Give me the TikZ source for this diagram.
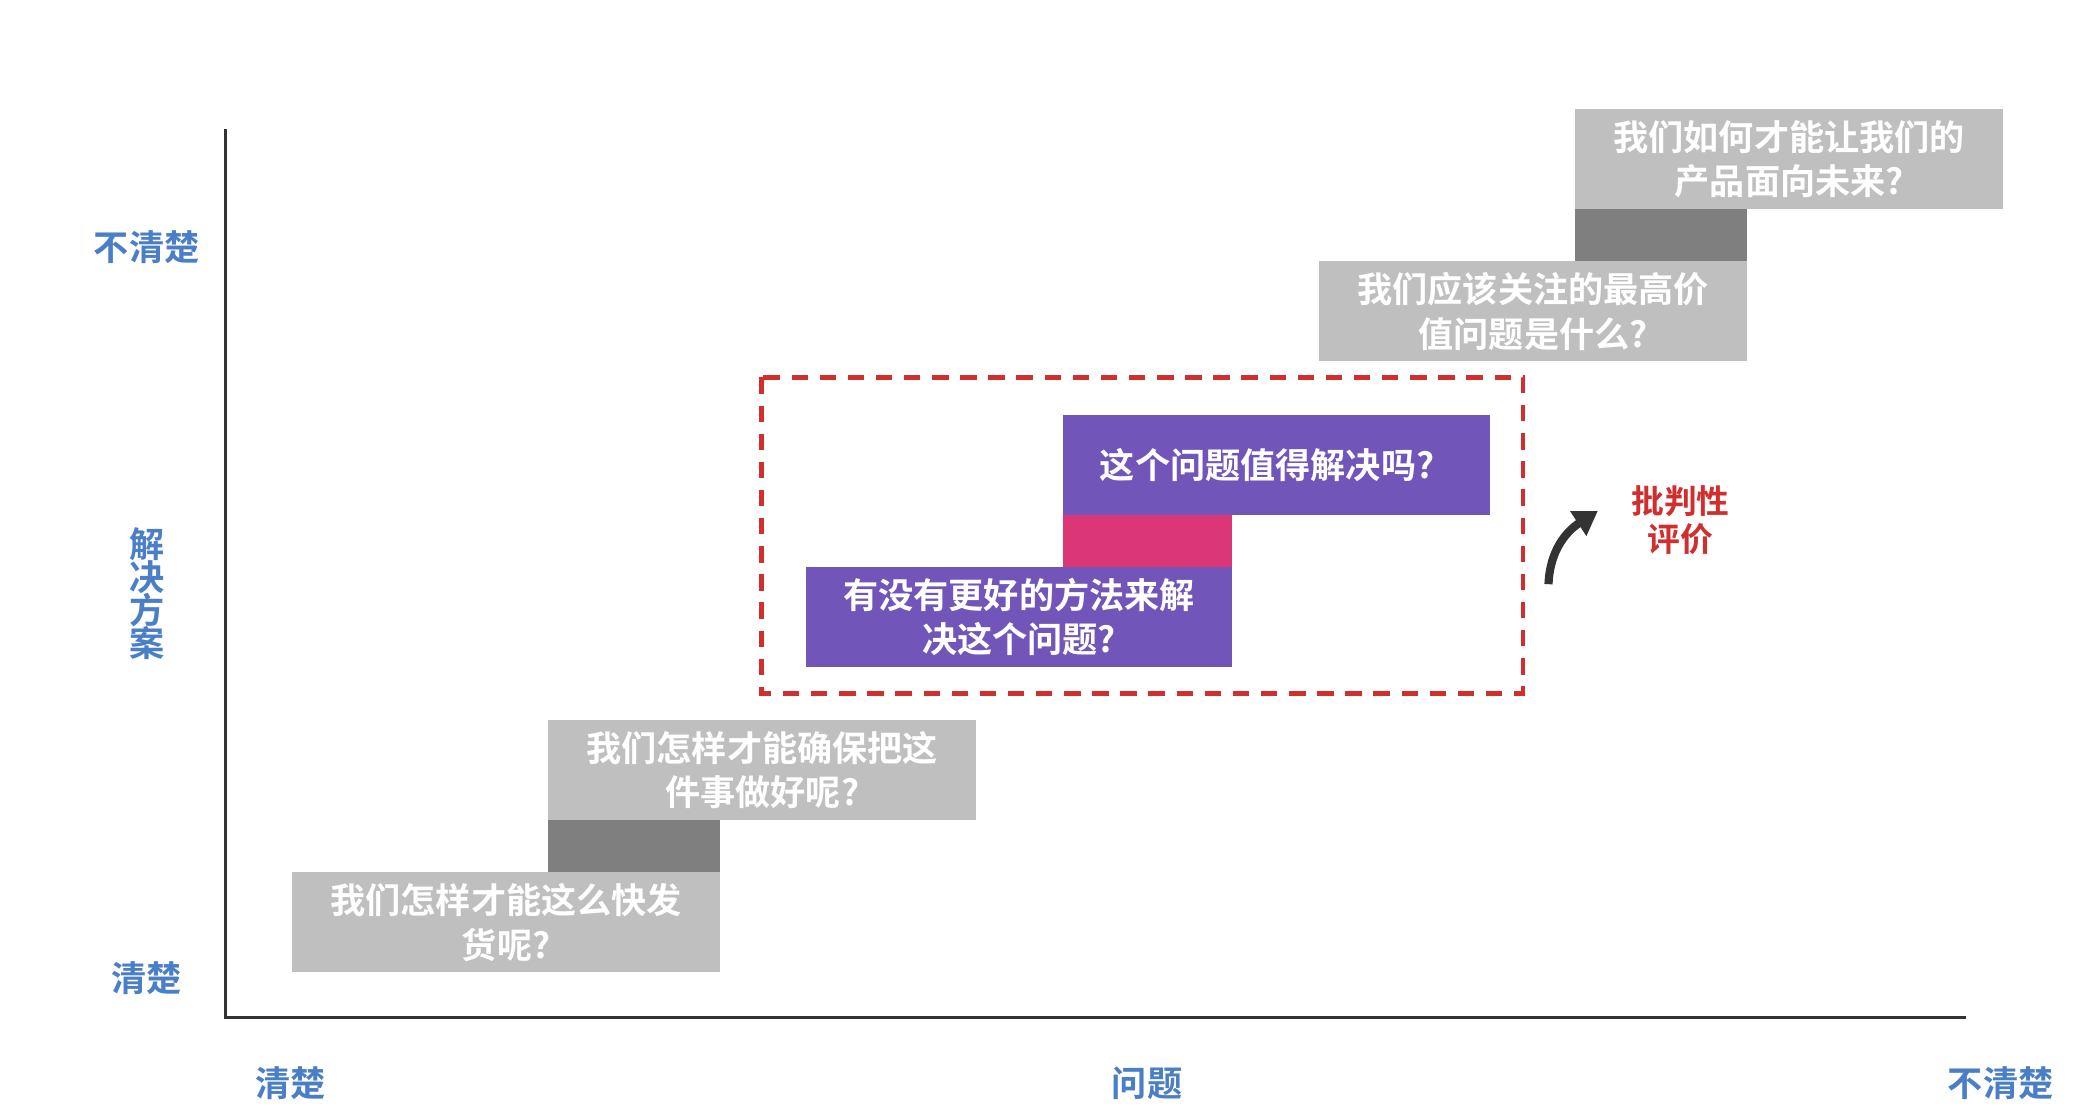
\documentclass[tikz,border=0pt]{standalone}
\usepackage{fontspec}
\newfontfamily\cjk{Noto Sans CJK SC}[BoldFont={Noto Sans CJK SC Bold}]
\usetikzlibrary{arrows.meta}
\definecolor{lg}{HTML}{BFBFBF}
\definecolor{dg}{HTML}{7F7F7F}
\definecolor{pu}{HTML}{7155B8}
\definecolor{pk}{HTML}{DB3777}
\definecolor{bl}{HTML}{4A7EC7}
\definecolor{rd}{HTML}{D12E2E}
\begin{document}
\begin{tikzpicture}[x=0.02cm,y=-0.02cm,font=\cjk\bfseries,
  qbox/.style={text=white,font=\cjk\bfseries\fontsize{15}{19}\selectfont,align=center},
  ax/.style={text=bl,font=\cjk\bfseries\fontsize{15}{17}\selectfont,align=center}]
\useasboundingbox (0,0) rectangle (1564,838);
\fill[white] (0,0) rectangle (1564,838);
% axes
\coordinate (o) at (169,763);
\coordinate (yt) at (169,97);
\coordinate (xr) at (1474,763);
\draw[line width=1.2pt,black!80] (yt) -- (o) -- (xr);
% axis labels
\node[ax] (y1) at (110,185) {不清楚};
\node[ax,inner sep=0pt] (y2) at (110,445) {解\\[-3pt]决\\[-3pt]方\\[-3pt]案};
\node[ax] (y3) at (110,733) {清楚};
\node[ax] (x1) at (218,812) {清楚};
\node[ax] (x2) at (860,812) {问题};
\node[ax] (x3) at (1500,812) {不清楚};
% boxes
\fill[lg] (219,654) rectangle (540,729);
\fill[dg] (411,615) rectangle (540,654);
\fill[lg] (411,540) rectangle (732,615);
\fill[pu] (604,425) rectangle (924,500);
\fill[pk] (797,386) rectangle (924,425);
\fill[pu] (797,311) rectangle (1117,386);
\fill[lg] (989,196) rectangle (1310,271);
\fill[dg] (1181,157) rectangle (1310,196);
\fill[lg] (1181,82) rectangle (1502,157);
\node[qbox] (b1) at (379.5,691.5) {我们怎样才能这么快发\\货呢?};
\node[qbox] (b2) at (571.5,577.5) {我们怎样才能确保把这\\件事做好呢?};
\node[qbox] (b3) at (764,462.5) {有没有更好的方法来解\\决这个问题?};
\node[qbox] (b4) at (950,348.5) {这个问题值得解决吗?};
\node[qbox] (b5) at (1149.5,233.5) {我们应该关注的最高价\\值问题是什么?};
\node[qbox] (b6) at (1341.5,119.5) {我们如何才能让我们的\\产品面向未来?};
% dashed frame
\draw[rd,line width=1.8pt,dash pattern=on 7pt off 5pt] (571,283) rectangle (1142,520);
% arrow and label
\coordinate (a1) at (1161,438);
\coordinate (a2) at (1198,383);
\draw[line width=3.5pt,black!80,-{Triangle[length=10pt,width=12pt]}] (a1) .. controls (1162,412) and (1175,398) .. (a2);
\node[text=rd,font=\cjk\bfseries\fontsize{14}{16}\selectfont,align=center] (crit) at (1260,390) {批判性\\评价};
\end{tikzpicture}
\end{document}
